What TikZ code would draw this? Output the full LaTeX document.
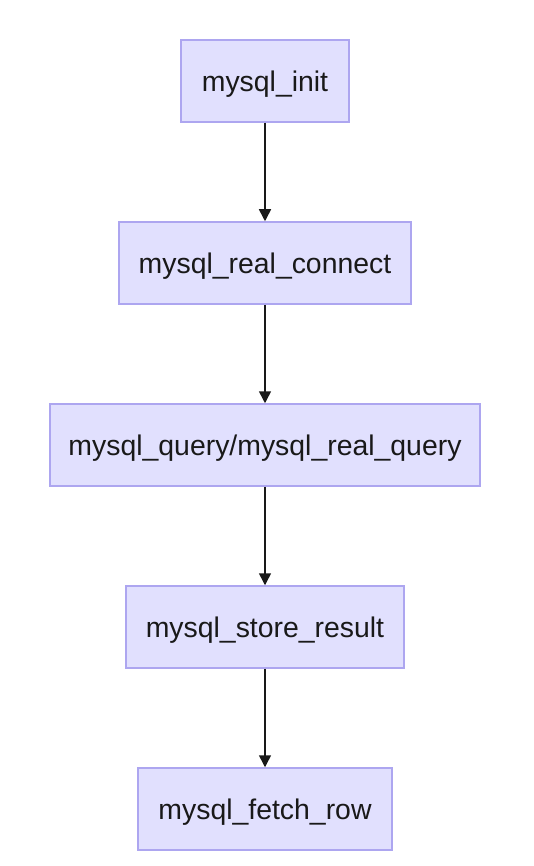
\documentclass[tikz,border=0pt]{standalone}
\usepackage{fontspec}
\setmainfont{Liberation Sans}
\usetikzlibrary{arrows.meta}
\definecolor{boxfill}{HTML}{E1E0FE}
\definecolor{boxdraw}{HTML}{ADA6F0}
\newcommand{\lowlabel}[1]{\raisebox{-3.5pt}[\height][\depth]{#1}}
\tikzset{
  stepbox/.style={draw=boxdraw, fill=boxfill, line width=1.5pt, minimum height=82pt, inner sep=0pt,
    font=\fontsize{28.4pt}{31pt}\selectfont, text=black!90},
  flow/.style={draw=black!90, line width=1.5pt, -{Triangle[length=12pt,width=12pt]}}
}
\begin{document}
\begin{tikzpicture}[x=1pt,y=1pt]
\useasboundingbox[fill=white] (0,0) rectangle (534,-866);
\node[stepbox, minimum width=168pt] (a) at (265,-81) {\lowlabel{mysql\_init}};
\node[stepbox, minimum width=292pt] (b) at (265,-263) {\lowlabel{mysql\_real\_connect}};
\node[stepbox, minimum width=430pt] (c) at (265,-445) {\lowlabel{mysql\_query/mysql\_real\_query}};
\node[stepbox, minimum width=278pt] (d) at (265,-627) {\lowlabel{mysql\_store\_result}};
\node[stepbox, minimum width=254pt] (e) at (265,-809) {\lowlabel{mysql\_fetch\_row}};
\draw[flow] (a) -- (b);
\draw[flow] (b) -- (c);
\draw[flow] (c) -- (d);
\draw[flow] (d) -- (e);
\end{tikzpicture}
\end{document}
